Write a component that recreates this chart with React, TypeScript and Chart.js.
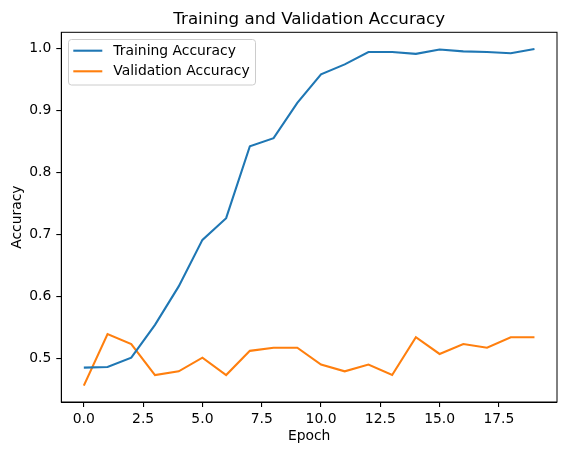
import { useEffect, useRef } from "react"
import { Chart, registerables } from "chart.js"

Chart.register(...registerables)

const epochs = [0, 1, 2, 3, 4, 5, 6, 7, 8, 9, 10, 11, 12, 13, 14, 15, 16, 17, 18, 19]
const trainingAccuracy = [
  0.485, 0.486, 0.501, 0.554, 0.616, 0.691, 0.726, 0.842, 0.855, 0.912,
  0.958, 0.974, 0.994, 0.994, 0.991, 0.998, 0.995, 0.994, 0.992, 0.999,
]
const validationAccuracy = [
  0.456, 0.539, 0.523, 0.473, 0.479, 0.501, 0.473, 0.512, 0.517, 0.517,
  0.49, 0.479, 0.49, 0.473, 0.534, 0.507, 0.523, 0.517, 0.534, 0.534,
]
const xTicks = [0, 2.5, 5, 7.5, 10, 12.5, 15, 17.5]
const yTicks = [0.5, 0.6, 0.7, 0.8, 0.9, 1.0]

const FONT = "'DejaVu Sans', sans-serif"
const BLUE = "#1f77b4"
const ORANGE = "#ff7f0e"

const decorations = {
  id: "decorations",
  afterDraw(chart: Chart) {
    const { ctx, chartArea } = chart
    const { left, right, top, bottom } = chartArea
    const cx = (left + right) / 2
    ctx.save()

    // spines
    ctx.strokeStyle = "#000"
    ctx.lineWidth = 1
    ctx.strokeRect(left, top, right - left, bottom - top)

    // title
    ctx.fillStyle = "#000"
    ctx.font = `16.7px ${FONT}`
    ctx.textAlign = "center"
    ctx.textBaseline = "alphabetic"
    ctx.fillText("Training and Validation Accuracy", cx, 24)

    // axis labels
    ctx.font = `13.9px ${FONT}`
    ctx.textBaseline = "top"
    ctx.fillText("Epoch", cx, 429)
    ctx.save()
    ctx.translate(17, (top + bottom) / 2)
    ctx.rotate(-Math.PI / 2)
    ctx.textBaseline = "middle"
    ctx.fillText("Accuracy", 0, 0)
    ctx.restore()

    // legend
    const lx = 68.5
    const ly = 39.5
    const lw = 187
    const lh = 45.5
    ctx.beginPath()
    ctx.roundRect(lx, ly, lw, lh, 3)
    ctx.fillStyle = "rgba(255,255,255,0.8)"
    ctx.fill()
    ctx.strokeStyle = "#cccccc"
    ctx.lineWidth = 1
    ctx.stroke()

    const items: [string, string, number][] = [
      ["Training Accuracy", BLUE, 50.7],
      ["Validation Accuracy", ORANGE, 71.3],
    ]
    ctx.font = `13.9px ${FONT}`
    ctx.textAlign = "left"
    ctx.textBaseline = "middle"
    for (const [label, color, y] of items) {
      ctx.beginPath()
      ctx.moveTo(73.3, y)
      ctx.lineTo(102.3, y)
      ctx.strokeStyle = color
      ctx.lineWidth = 2.1
      ctx.stroke()
      ctx.fillStyle = "#000"
      ctx.fillText(label, 113.3, y + 0.5)
    }
    ctx.restore()
  },
}

export default function App() {
  const chartRef = useRef<HTMLCanvasElement>(null)
  const chartInstance = useRef<Chart | null>(null)

  useEffect(() => {
    document.body.style.margin = "0"
    if (!chartRef.current) return
    if (chartInstance.current) chartInstance.current.destroy()
    const ctx = chartRef.current.getContext("2d")
    if (!ctx) return

    const tickStyle = {
      color: "#000",
      font: { family: FONT, size: 13.9 },
    }

    chartInstance.current = new Chart(ctx, {
      type: "line",
      data: {
        datasets: [
          {
            label: "Training Accuracy",
            data: epochs.map((e, i) => ({ x: e, y: trainingAccuracy[i] })),
            borderColor: BLUE,
            borderWidth: 2.1,
            pointRadius: 0,
            tension: 0,
          },
          {
            label: "Validation Accuracy",
            data: epochs.map((e, i) => ({ x: e, y: validationAccuracy[i] })),
            borderColor: ORANGE,
            borderWidth: 2.1,
            pointRadius: 0,
            tension: 0,
          },
        ],
      },
      options: {
        responsive: false,
        animation: false,
        layout: { padding: { top: 32.3, right: 10, left: 0, bottom: 0 } },
        plugins: {
          legend: { display: false },
          title: { display: false },
          tooltip: { enabled: false },
        },
        scales: {
          x: {
            type: "linear",
            min: -0.95,
            max: 19.95,
            grid: { drawOnChartArea: false, drawTicks: true, tickLength: 5, color: "#000", lineWidth: 1.1 },
            border: { display: true, color: "#000", width: 1 },
            ticks: {
              ...tickStyle,
              padding: 4,
              maxRotation: 0,
              includeBounds: false,
              callback: (v: any) => Number(v).toFixed(1),
            },
            afterBuildTicks: (axis: any) => {
              axis.ticks = xTicks.map((v) => ({ value: v }))
            },
            afterFit: (scale: any) => {
              scale.height = 53
            },
          },
          y: {
            type: "linear",
            min: 0.4295,
            max: 1.0258,
            grid: { drawOnChartArea: false, drawTicks: true, tickLength: 5, color: "#000", lineWidth: 1.1 },
            border: { display: true, color: "#000", width: 1 },
            ticks: {
              ...tickStyle,
              padding: 5,
              includeBounds: false,
              callback: (v: any) => Number(v).toFixed(1),
            },
            afterBuildTicks: (axis: any) => {
              axis.ticks = yTicks.map((v) => ({ value: v }))
            },
            afterFit: (scale: any) => {
              scale.width = 61.3
            },
          },
        },
      },
      plugins: [decorations],
    })

    return () => {
      if (chartInstance.current) {
        chartInstance.current.destroy()
        chartInstance.current = null
      }
    }
  }, [])

  return (
    <div style={{ width: 567, height: 455, background: "#fff" }}>
      <canvas ref={chartRef} width={567} height={455} style={{ width: 567, height: 455 }} />
    </div>
  )
}
